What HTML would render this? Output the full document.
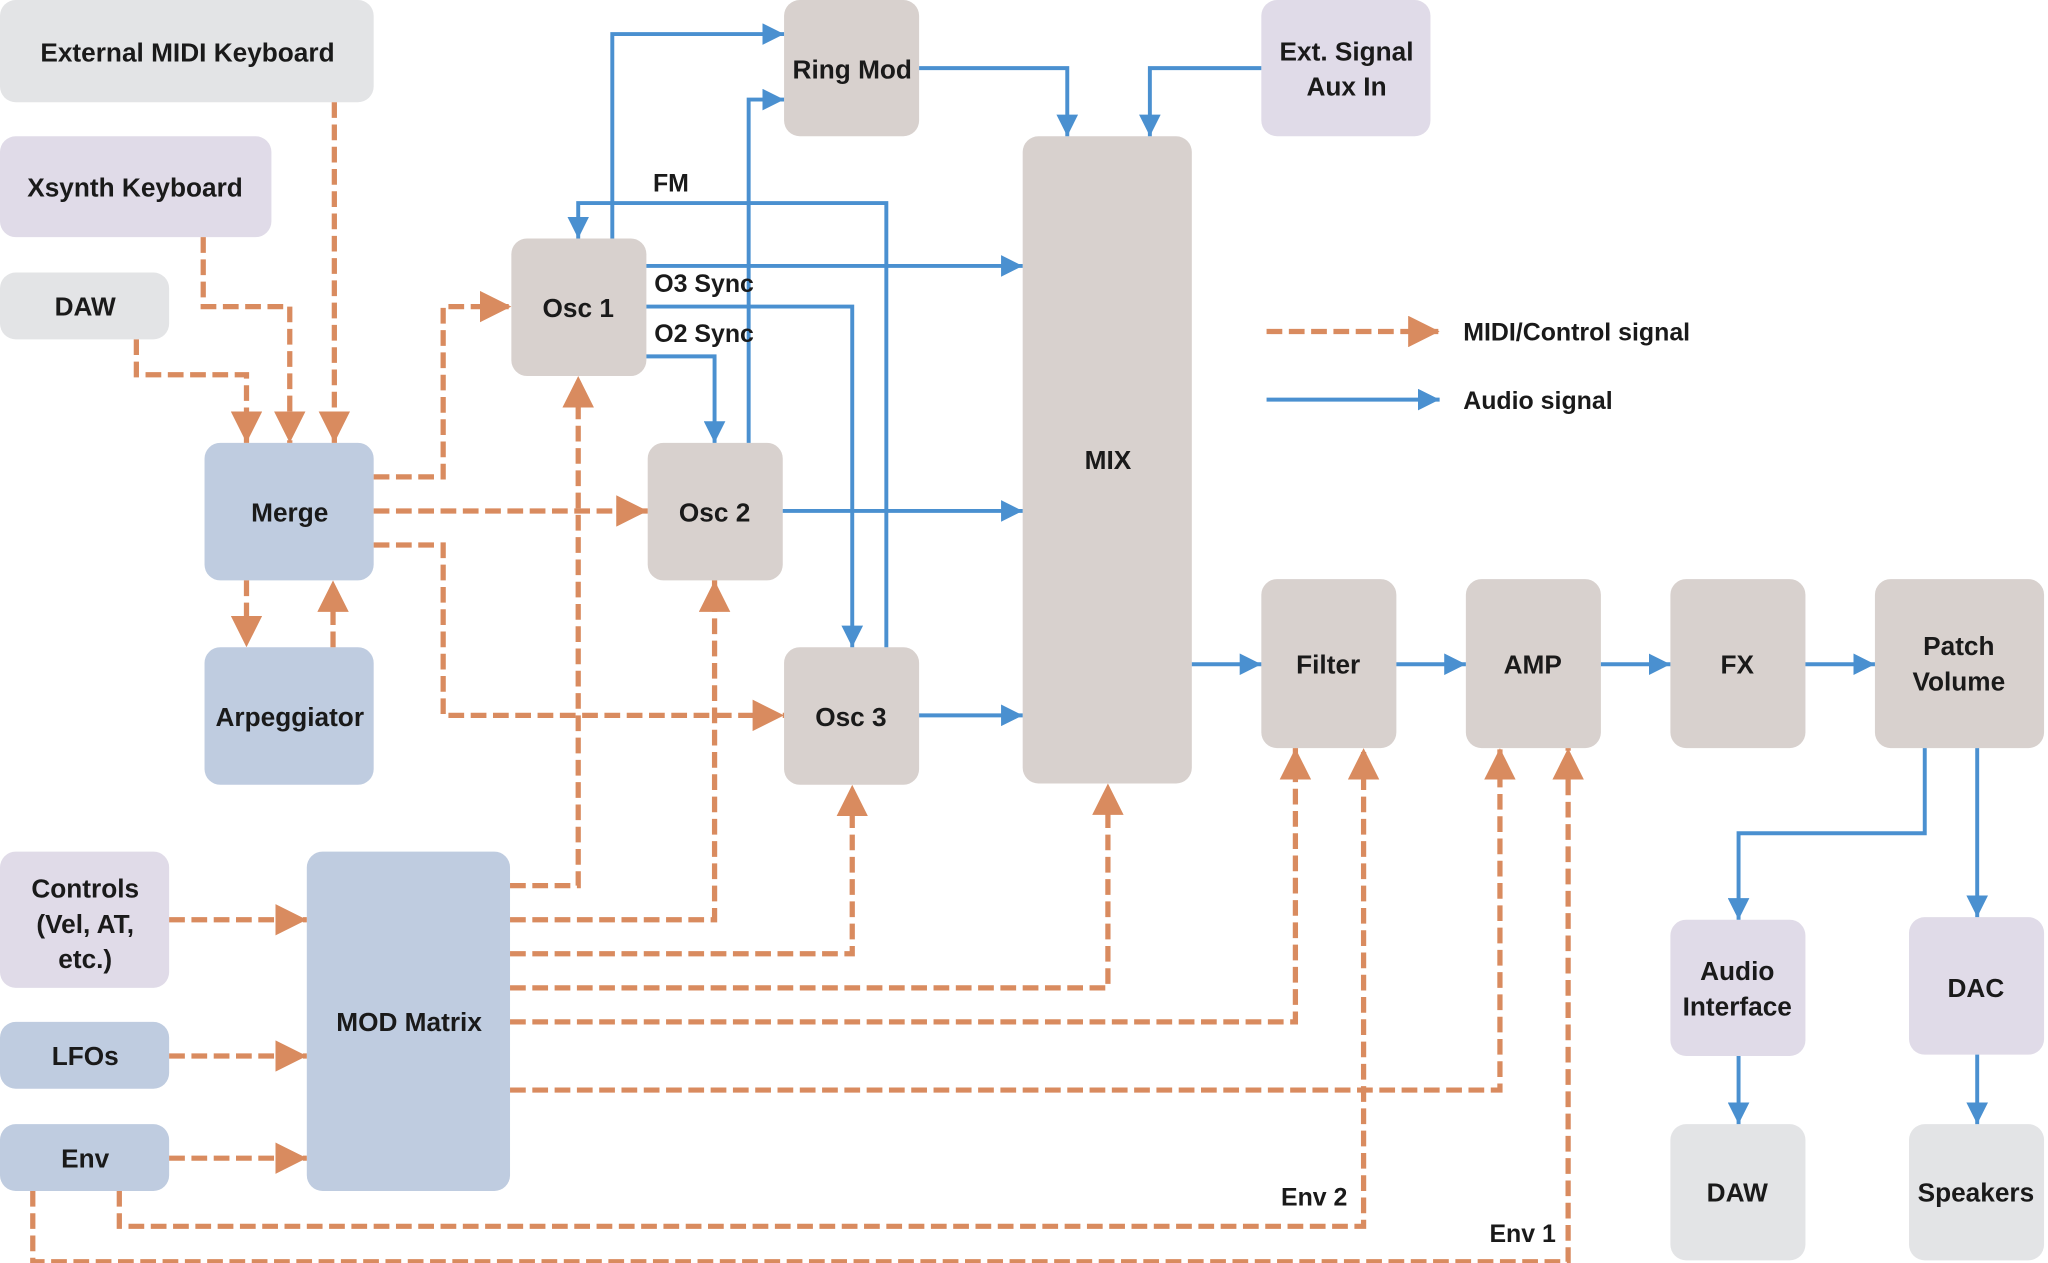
<!DOCTYPE html>
<html><head><meta charset="utf-8"><style>
html,body{margin:0;padding:0;background:#fff;}
svg{display:block;}
text{font-family:"Liberation Sans",sans-serif;font-weight:bold;fill:#1a1a1a;}
</style></head><body>
<svg width="2048" height="1263" viewBox="0 0 1562 964" preserveAspectRatio="none" xmlns="http://www.w3.org/2000/svg">
<defs>
<marker id="oa" viewBox="0 0 10 10" refX="10" refY="5" markerWidth="6" markerHeight="6" markerUnits="strokeWidth" orient="auto"><path d="M0,0L10,5L0,10z" fill="#d98b5f"/></marker>
<marker id="ba" viewBox="0 0 10 10" refX="10" refY="5" markerWidth="5.5" markerHeight="5.5" markerUnits="strokeWidth" orient="auto"><path d="M0,0L10,5L0,10z" fill="#4a90d0"/></marker>
</defs>
<!-- nodes -->
<g>
<rect x="0" y="0" width="285" height="78" rx="12" fill="#e3e4e6"/>
<rect x="0" y="104" width="207" height="77" rx="12" fill="#e0dbe8"/>
<rect x="0" y="208" width="129" height="51" rx="12" fill="#e3e4e6"/>
<rect x="156" y="338" width="129" height="105" rx="12" fill="#bfcce0"/>
<rect x="156" y="494" width="129" height="105" rx="12" fill="#bfcce0"/>
<rect x="390" y="182" width="103" height="105" rx="12" fill="#d8d1ce"/>
<rect x="494" y="338" width="103" height="105" rx="12" fill="#d8d1ce"/>
<rect x="598" y="494" width="103" height="105" rx="12" fill="#d8d1ce"/>
<rect x="598" y="0" width="103" height="104" rx="12" fill="#d8d1ce"/>
<rect x="962" y="0" width="129" height="104" rx="12" fill="#e0dbe8"/>
<rect x="780" y="104" width="129" height="494" rx="12" fill="#d8d1ce"/>
<rect x="962" y="442" width="103" height="129" rx="12" fill="#d8d1ce"/>
<rect x="1118" y="442" width="103" height="129" rx="12" fill="#d8d1ce"/>
<rect x="1274" y="442" width="103" height="129" rx="12" fill="#d8d1ce"/>
<rect x="1430" y="442" width="129" height="129" rx="12" fill="#d8d1ce"/>
<rect x="1274" y="702" width="103" height="104" rx="12" fill="#e0dbe8"/>
<rect x="1456" y="700" width="103" height="105" rx="12" fill="#e0dbe8"/>
<rect x="1274" y="858" width="103" height="104" rx="12" fill="#e3e4e6"/>
<rect x="1456" y="858" width="103" height="104" rx="12" fill="#e3e4e6"/>
<rect x="0" y="650" width="129" height="104" rx="12" fill="#e0dbe8"/>
<rect x="0" y="780" width="129" height="51" rx="12" fill="#bfcce0"/>
<rect x="0" y="858" width="129" height="51" rx="12" fill="#bfcce0"/>
<rect x="234" y="650" width="155" height="259" rx="12" fill="#bfcce0"/>
</g>
<!-- orange dashed -->
<g fill="none" stroke="#d98b5f" stroke-width="4" stroke-dasharray="12 5" marker-end="url(#oa)">
<path d="M255,78V338"/>
<path d="M155,181V234H221V338"/>
<path d="M104,259V286H188V338"/>
<path d="M285,364H338V234H390"/>
<path d="M285,390H494"/>
<path d="M285,416H338V546H598"/>
<path d="M188,443V494"/>
<path d="M254,494V443"/>
<path d="M129,702H234"/>
<path d="M129,806H234"/>
<path d="M129,884H234"/>
<path d="M389,676H441V287"/>
<path d="M389,702H545V443"/>
<path d="M389,728H650V599"/>
<path d="M389,754H845V598"/>
<path d="M389,780H988V571"/>
<path d="M389,832H1144V571"/>
<path d="M91,909V936H1040V571"/>
<path d="M25,909V963H1196V571"/>
<path d="M966,253H1098"/>
</g>
<!-- blue -->
<g fill="none" stroke="#4a90d0" stroke-width="3" marker-end="url(#ba)">
<path d="M467,182V26H598"/>
<path d="M571,338V76H598"/>
<path d="M701,52H814V104"/>
<path d="M962,52H877V104"/>
<path d="M676,494V155H441V182"/>
<path d="M493,203H780"/>
<path d="M493,234H650V494"/>
<path d="M493,272H545V338"/>
<path d="M597,390H780"/>
<path d="M701,546H780"/>
<path d="M909,507H962"/>
<path d="M1065,507H1118"/>
<path d="M1221,507H1274"/>
<path d="M1377,507H1430"/>
<path d="M1468,571V636H1326V702"/>
<path d="M1508,571V700"/>
<path d="M1326,806V858"/>
<path d="M1508,805V858"/>
<path d="M966,305H1098"/>
</g>
<!-- labels -->
<g font-size="20" text-anchor="middle">
<text x="143" y="47">External MIDI Keyboard</text>
<text x="103" y="150">Xsynth Keyboard</text>
<text x="65" y="241">DAW</text>
<text x="221" y="398">Merge</text>
<text x="221" y="554">Arpeggiator</text>
<text x="441" y="242">Osc 1</text>
<text x="545" y="398">Osc 2</text>
<text x="649" y="554">Osc 3</text>
<text x="650" y="60">Ring Mod</text>
<text x="1027" y="46">Ext. Signal</text>
<text x="1027" y="73">Aux In</text>
<text x="845" y="358">MIX</text>
<text x="1013" y="514">Filter</text>
<text x="1169" y="514">AMP</text>
<text x="1325" y="514">FX</text>
<text x="1494" y="500">Patch</text>
<text x="1494" y="527">Volume</text>
<text x="1325" y="748">Audio</text>
<text x="1325" y="775">Interface</text>
<text x="1507" y="761">DAC</text>
<text x="1325" y="917">DAW</text>
<text x="1507" y="917">Speakers</text>
<text x="65" y="685">Controls</text>
<text x="65" y="712">(Vel, AT,</text>
<text x="65" y="739">etc.)</text>
<text x="65" y="813">LFOs</text>
<text x="65" y="891">Env</text>
<text x="312" y="787">MOD Matrix</text>
</g>
<g font-size="19">
<text x="498" y="146">FM</text>
<text x="499" y="223">O3 Sync</text>
<text x="499" y="261">O2 Sync</text>
<text x="977" y="920">Env 2</text>
<text x="1136" y="948">Env 1</text>
<text x="1116" y="260">MIDI/Control signal</text>
<text x="1116" y="312">Audio signal</text>
</g>
</svg>
</body></html>
